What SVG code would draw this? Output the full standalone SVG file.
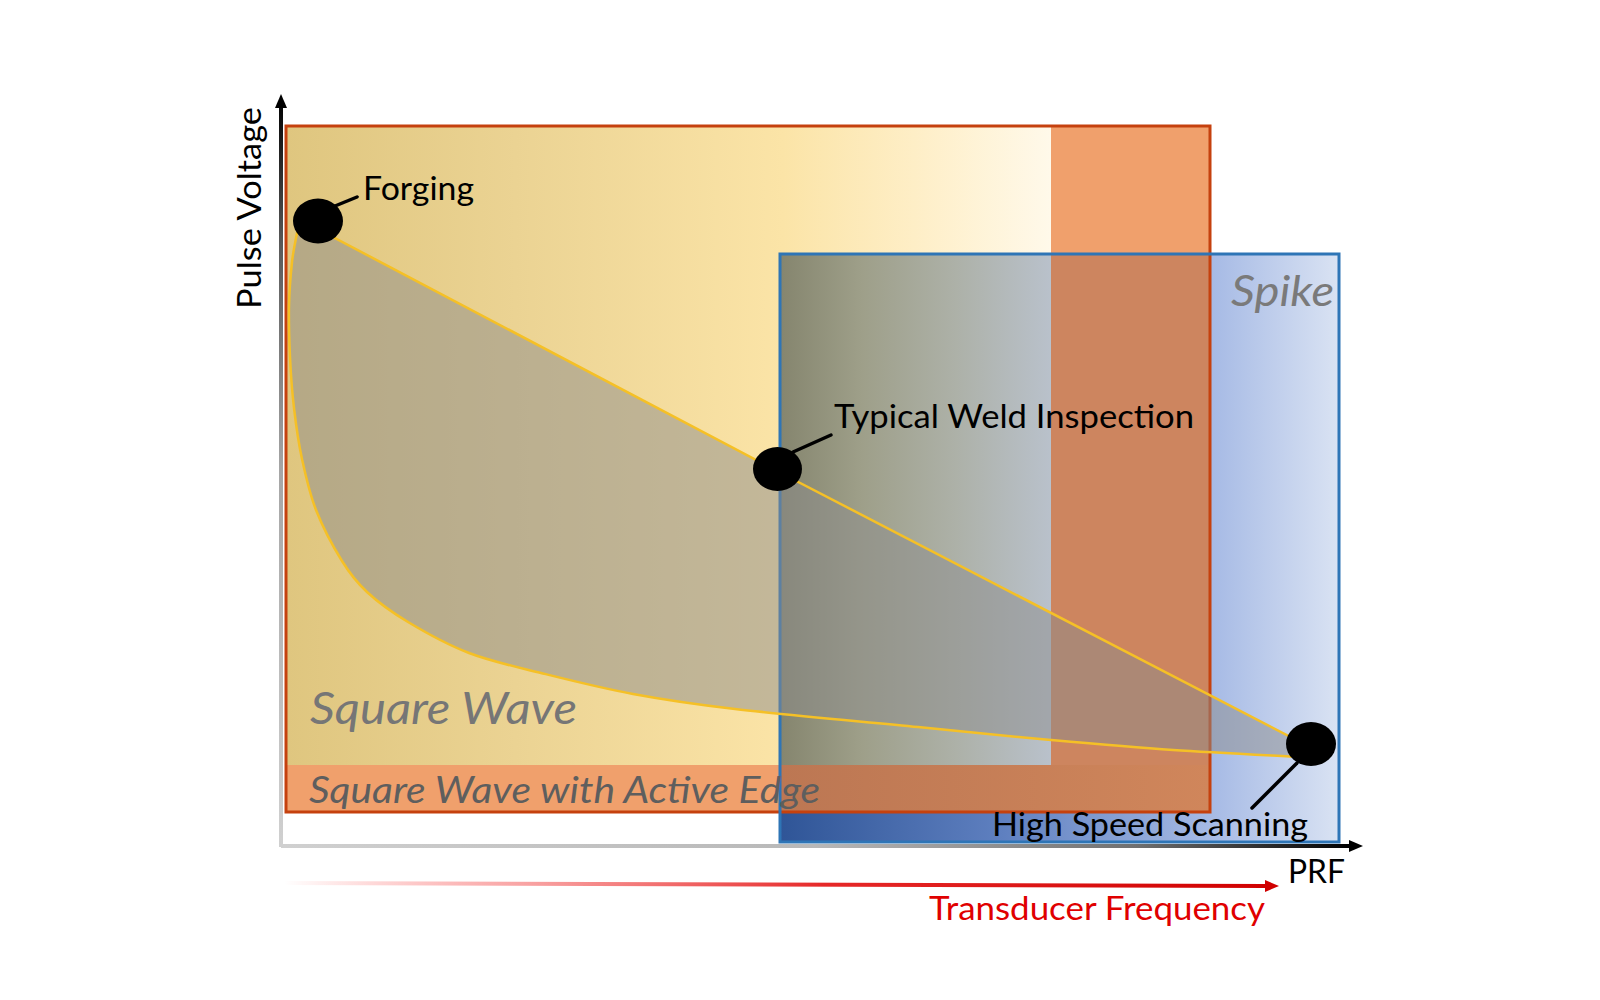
<svg xmlns="http://www.w3.org/2000/svg" width="1600" height="1000" viewBox="0 0 1600 1000">
<defs>
<style>
.lbl{font-family:Lato,"Open Sans","Liberation Sans",sans-serif;font-size:33px;fill:#000}
.reg{font-family:Lato,"Open Sans","Liberation Sans",sans-serif;font-style:italic}
.dot{fill:#000}
.lead{stroke:#000;stroke-width:3.5;stroke-linecap:round;fill:none}
</style>
<linearGradient id="gYellow" gradientUnits="userSpaceOnUse" x1="286" y1="0" x2="1051" y2="0">
<stop offset="0" stop-color="#DFC67F"/>
<stop offset="0.3" stop-color="#EBD393"/>
<stop offset="0.65" stop-color="#FBE4A7"/>
<stop offset="0.82" stop-color="#FEEEC6"/>
<stop offset="1" stop-color="#FFF9EA"/>
</linearGradient>
<linearGradient id="gBlue" gradientUnits="userSpaceOnUse" x1="780" y1="0" x2="1340" y2="0">
<stop offset="0" stop-color="#2F5597"/>
<stop offset="0.4" stop-color="#5F80C0"/>
<stop offset="0.77" stop-color="#A6BAE5"/>
<stop offset="1" stop-color="#DAE3F3"/>
</linearGradient>
<linearGradient id="gMix" gradientUnits="userSpaceOnUse" x1="780" y1="0" x2="1051" y2="0">
<stop offset="0" stop-color="#85856E"/>
<stop offset="0.3" stop-color="#9E9F89"/>
<stop offset="0.65" stop-color="#ADB1A8"/>
<stop offset="1" stop-color="#B9C1CB"/>
</linearGradient>
<linearGradient id="gStrip" gradientUnits="userSpaceOnUse" x1="780" y1="0" x2="1210" y2="0">
<stop offset="0" stop-color="#BC7753"/>
<stop offset="1" stop-color="#D0865B"/>
</linearGradient>
<linearGradient id="gYaxis" gradientUnits="userSpaceOnUse" x1="0" y1="847" x2="0" y2="97">
<stop offset="0" stop-color="#D0D0D0"/>
<stop offset="0.5" stop-color="#A6A6A6"/>
<stop offset="0.8" stop-color="#5A5A5A"/>
<stop offset="1" stop-color="#000"/>
</linearGradient>
<linearGradient id="gXaxis" gradientUnits="userSpaceOnUse" x1="281" y1="0" x2="1350" y2="0">
<stop offset="0" stop-color="#D0D0D0"/>
<stop offset="0.5" stop-color="#B8B8B8"/>
<stop offset="0.8" stop-color="#707070"/>
<stop offset="1" stop-color="#000"/>
</linearGradient>
<linearGradient id="gRed" gradientUnits="userSpaceOnUse" x1="284" y1="0" x2="1266" y2="0">
<stop offset="0" stop-color="#FF0000" stop-opacity="0"/>
<stop offset="0.25" stop-color="#F03030" stop-opacity="0.45"/>
<stop offset="0.55" stop-color="#E31010" stop-opacity="0.9"/>
<stop offset="1" stop-color="#D00000"/>
</linearGradient>
</defs>
<rect width="1600" height="1000" fill="#fff"/>

<g id="region-square-wave-active-edge">
<rect x="286" y="126" width="924" height="686" fill="#F0A06C"/>
</g>
<g id="region-square-wave">
<rect x="286" y="126" width="765" height="639" fill="url(#gYellow)"/>
</g>
<g id="region-spike">
<rect x="780" y="254" width="560" height="589" fill="url(#gBlue)"/>
<rect x="780" y="254" width="271" height="511" fill="url(#gMix)"/>
<rect x="1051" y="254" width="159" height="511" fill="#CD855F"/>
<rect x="780" y="765" width="430" height="47" fill="url(#gStrip)"/>
</g>

<g id="outlines" fill="none">
<rect x="286" y="126" width="924" height="686" stroke="#C5410E" stroke-width="3"/>
<rect x="780" y="254" width="559" height="588" stroke="#2E75B6" stroke-width="3"/>
</g>

<g id="range-shape">
<path d="M297,233 C296.2,237.8 293.3,249.8 292,262 C290.7,274.2 289.3,290.2 289,306 C288.7,321.8 289.2,340 290,357 C290.8,374 292,391 294,408 C296,425 298.3,442 302,459 C305.7,476 309.3,493 316,510 C322.7,527 333.5,547.3 342,561 C350.5,574.7 356,581.8 367,592 C378,602.2 391,611.8 408,622 C425,632.2 446.8,644.5 469,653 C491.2,661.5 513.7,666.2 541,673 C568.3,679.8 600.7,688 633,694 C665.3,700 687.5,703.5 735,709 C782.5,714.5 865.3,721.8 918,727 C970.7,732.2 1008.5,736.2 1051,740 C1093.5,743.8 1131.5,747.2 1173,750 C1214.5,752.8 1278.8,755.8 1300,757 L1308,757 L1308,746 L777,471 L312,226 Z" fill="#8C8C8C" fill-opacity="0.5" stroke="#F5C026" stroke-width="2.5" stroke-linejoin="round"/>
</g>

<g id="connectors">
<line class="lead" x1="335" y1="206" x2="357" y2="197"/>
<line class="lead" x1="793" y1="452" x2="831" y2="435"/>
<line class="lead" x1="1297" y1="763" x2="1252" y2="808"/>
</g>

<g id="node-forging">
<ellipse class="dot" cx="318" cy="221" rx="25" ry="22.5"/>
<text class="lbl" x="363" y="200" textLength="111" lengthAdjust="spacingAndGlyphs">Forging</text>
</g>
<g id="node-typical-weld">
<ellipse class="dot" cx="777.5" cy="469" rx="24.5" ry="22"/>
<text class="lbl" x="834" y="428" textLength="360" lengthAdjust="spacingAndGlyphs">Typical Weld Inspection</text>
</g>
<g id="node-high-speed">
<ellipse class="dot" cx="1311" cy="744" rx="25" ry="22"/>
<text class="lbl" x="992" y="836" textLength="316" lengthAdjust="spacingAndGlyphs">High Speed Scanning</text>
</g>

<g id="region-labels">
<text class="reg" x="310" y="724" font-size="45" fill="#767676" textLength="267" lengthAdjust="spacingAndGlyphs">Square Wave</text>
<text class="reg" x="309" y="803" font-size="37" fill="#5E5E5E" textLength="511" lengthAdjust="spacingAndGlyphs">Square Wave with Active Edge</text>
<text class="reg" x="1231" y="306" font-size="43" fill="#7A7A7A" textLength="103" lengthAdjust="spacingAndGlyphs">Spike</text>
</g>

<g id="axes">
<line x1="281" y1="847" x2="281" y2="106" stroke="url(#gYaxis)" stroke-width="4"/>
<polygon points="281,94 275,108 287,108" fill="#000"/>
<line x1="281" y1="846" x2="1350" y2="846" stroke="url(#gXaxis)" stroke-width="4"/>
<polygon points="1363,846 1349,840 1349,852" fill="#000"/>
<text class="lbl" x="1288" y="883" textLength="57" lengthAdjust="spacingAndGlyphs">PRF</text>
<text class="lbl" transform="translate(261,309) rotate(-90)" x="0" y="0" textLength="202" lengthAdjust="spacingAndGlyphs">Pulse Voltage</text>
<line x1="284" y1="883" x2="1266" y2="886" stroke="url(#gRed)" stroke-width="4"/>
<polygon points="1279,886 1265,880 1265,892" fill="#D00000"/>
<text class="lbl" x="929" y="920" fill="#E00000" style="fill:#E00000" textLength="336" lengthAdjust="spacingAndGlyphs">Transducer Frequency</text>
</g>
</svg>
